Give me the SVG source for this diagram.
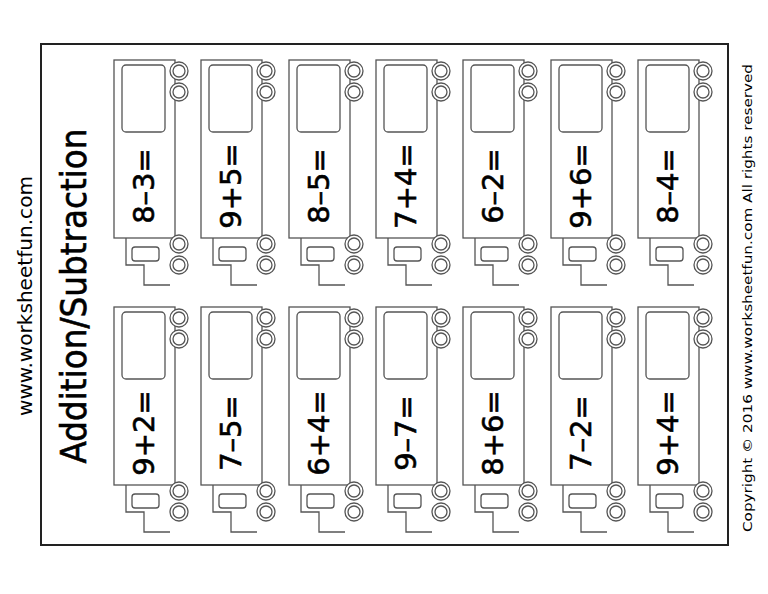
<svg xmlns="http://www.w3.org/2000/svg" xmlns:xlink="http://www.w3.org/1999/xlink" width="768" height="594" viewBox="0 0 768 594">
<style>
.ln{fill:#fff;stroke:#555;stroke-width:1.3}
.eq{font-family:"DejaVu Sans",sans-serif;font-size:29px;fill:#000;stroke:#000;stroke-width:0.6;text-anchor:middle}
</style>
<defs>
<g id="truck">
<path class="ln" d="M12,178 V205 H30 V225 H56"/>
<rect class="ln" x="0" y="0" width="61" height="178"/>
<rect class="ln" x="8" y="5" width="43" height="67" rx="4"/>
<rect class="ln" x="18" y="187" width="27" height="14" rx="3"/>
<g class="ln">
<circle cx="65" cy="11" r="9"/><circle cx="65" cy="11" r="6"/>
<circle cx="65" cy="32" r="9"/><circle cx="65" cy="32" r="6"/>
<circle cx="65" cy="184" r="9"/><circle cx="65" cy="184" r="6"/>
<circle cx="65" cy="205" r="9"/><circle cx="65" cy="205" r="6"/>
</g>
</g>
</defs>
<rect width="768" height="594" fill="#fff"/>
<rect x="41" y="44" width="687" height="501" fill="none" stroke="#222" stroke-width="2"/>
<text transform="translate(86,296) rotate(-90)" font-family="DejaVu Sans,sans-serif" font-size="35" stroke="#000" stroke-width="0.6" text-anchor="middle" textLength="335" lengthAdjust="spacingAndGlyphs">Addition/Subtraction</text>
<text transform="translate(32,296) rotate(-90)" font-family="DejaVu Sans,sans-serif" font-size="20" text-anchor="middle" textLength="240" lengthAdjust="spacingAndGlyphs">www.worksheetfun.com</text>
<text transform="translate(752,298) rotate(-90)" font-family="DejaVu Sans,sans-serif" font-size="13" text-anchor="middle" textLength="468" lengthAdjust="spacingAndGlyphs">Copyright © 2016 www.worksheetfun.com All rights reserved</text>
<g id="r1c1"><use xlink:href="#truck" x="114" y="60"/><text class="eq" transform="translate(154,186) rotate(-90)">8–3=</text></g>
<g id="r1c2"><use xlink:href="#truck" x="201" y="60"/><text class="eq" transform="translate(241,186) rotate(-90)">9+5=</text></g>
<g id="r1c3"><use xlink:href="#truck" x="289" y="60"/><text class="eq" transform="translate(329,186) rotate(-90)">8–5=</text></g>
<g id="r1c4"><use xlink:href="#truck" x="376" y="60"/><text class="eq" transform="translate(416,186) rotate(-90)">7+4=</text></g>
<g id="r1c5"><use xlink:href="#truck" x="463" y="60"/><text class="eq" transform="translate(503,186) rotate(-90)">6–2=</text></g>
<g id="r1c6"><use xlink:href="#truck" x="551" y="60"/><text class="eq" transform="translate(591,186) rotate(-90)">9+6=</text></g>
<g id="r1c7"><use xlink:href="#truck" x="638" y="60"/><text class="eq" transform="translate(678,186) rotate(-90)">8–4=</text></g>
<g id="r2c1"><use xlink:href="#truck" x="114" y="307"/><text class="eq" transform="translate(154,433) rotate(-90)">9+2=</text></g>
<g id="r2c2"><use xlink:href="#truck" x="201" y="307"/><text class="eq" transform="translate(241,433) rotate(-90)">7–5=</text></g>
<g id="r2c3"><use xlink:href="#truck" x="289" y="307"/><text class="eq" transform="translate(329,433) rotate(-90)">6+4=</text></g>
<g id="r2c4"><use xlink:href="#truck" x="376" y="307"/><text class="eq" transform="translate(416,433) rotate(-90)">9–7=</text></g>
<g id="r2c5"><use xlink:href="#truck" x="463" y="307"/><text class="eq" transform="translate(503,433) rotate(-90)">8+6=</text></g>
<g id="r2c6"><use xlink:href="#truck" x="551" y="307"/><text class="eq" transform="translate(591,433) rotate(-90)">7–2=</text></g>
<g id="r2c7"><use xlink:href="#truck" x="638" y="307"/><text class="eq" transform="translate(678,433) rotate(-90)">9+4=</text></g>
<g id="connectors"/>
</svg>
